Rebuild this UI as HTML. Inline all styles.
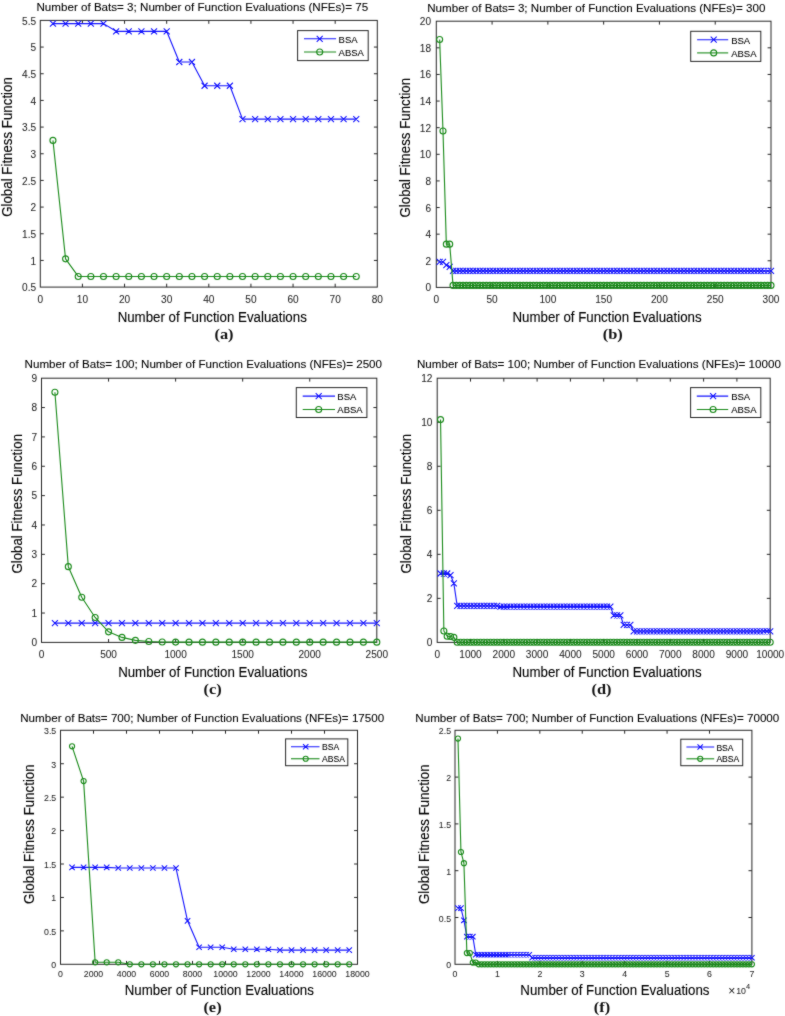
<!DOCTYPE html>
<html lang="en">
<head>
<meta charset="utf-8">
<title>Global Fitness Function vs Number of Function Evaluations</title>
<style>
html,body{margin:0;padding:0;background:#fff;}
body{width:785px;height:1016px;overflow:hidden;}
svg{display:block;}
text{font-family:"Liberation Sans",Arial,Helvetica,sans-serif;}
.ttl{font-size:11.62px;fill:#000;stroke:#000;stroke-width:0.08;}
.lbl{font-size:13.3px;fill:#000;stroke:#000;stroke-width:0.1;}
.sub{font-family:"Liberation Serif","Times New Roman",serif;font-weight:bold;font-size:15.6px;fill:#111;}
.tk{fill:#262626;stroke:#262626;stroke-width:0.06;}
.lgt{fill:#000;stroke:#000;stroke-width:0.08;}
.ax{fill:none;stroke:#262626;stroke-width:1;}
.legbox{fill:#fff;stroke:#262626;stroke-width:1;}
.lb{fill:none;stroke:#1414ff;stroke-width:1.1;stroke-linejoin:round;}
.lg{fill:none;stroke:#1a8a1a;stroke-width:1.1;stroke-linejoin:round;}
</style>
</head>
<body>
<svg width="785" height="1016" viewBox="0 0 785 1016">
<defs><filter id="soft" x="0" y="0" width="785" height="1016" filterUnits="userSpaceOnUse" color-interpolation-filters="sRGB"><feConvolveMatrix order="3" kernelMatrix="1 2 1 2 22 2 1 2 1" divisor="34" edgeMode="duplicate" preserveAlpha="true"/></filter></defs>
<g filter="url(#soft)">
<rect x="0" y="0" width="785" height="1016" fill="#fff"/>
<g id="plot-a">
<text class="ttl" x="202.3" y="10.6" text-anchor="middle">Number of Bats= 3; Number of Function Evaluations (NFEs)= 75</text>
<text class="lbl" transform="translate(212.2 321.6) scale(1 1.07)" text-anchor="middle">Number of Function Evaluations</text>
<text class="lbl" transform="translate(11.9 147) rotate(-90) scale(1 1.07)" text-anchor="middle">Global Fitness Function</text>
<text class="sub" transform="translate(224 338.6) scale(1.05 1)" text-anchor="middle">(a)</text>
<text class="tk" font-size="10.1" x="40.3" y="302.8" text-anchor="middle">0</text>
<text class="tk" font-size="10.1" x="82.42" y="302.8" text-anchor="middle">10</text>
<text class="tk" font-size="10.1" x="124.55" y="302.8" text-anchor="middle">20</text>
<text class="tk" font-size="10.1" x="166.68" y="302.8" text-anchor="middle">30</text>
<text class="tk" font-size="10.1" x="208.8" y="302.8" text-anchor="middle">40</text>
<text class="tk" font-size="10.1" x="250.93" y="302.8" text-anchor="middle">50</text>
<text class="tk" font-size="10.1" x="293.05" y="302.8" text-anchor="middle">60</text>
<text class="tk" font-size="10.1" x="335.18" y="302.8" text-anchor="middle">70</text>
<text class="tk" font-size="10.1" x="377.3" y="302.8" text-anchor="middle">80</text>
<text class="tk" font-size="10.1" x="36.15" y="291.45" text-anchor="end">0.5</text>
<text class="tk" font-size="10.1" x="36.15" y="264.78" text-anchor="end">1</text>
<text class="tk" font-size="10.1" x="36.15" y="238.11" text-anchor="end">1.5</text>
<text class="tk" font-size="10.1" x="36.15" y="211.44" text-anchor="end">2</text>
<text class="tk" font-size="10.1" x="36.15" y="184.77" text-anchor="end">2.5</text>
<text class="tk" font-size="10.1" x="36.15" y="158.1" text-anchor="end">3</text>
<text class="tk" font-size="10.1" x="36.15" y="131.43" text-anchor="end">3.5</text>
<text class="tk" font-size="10.1" x="36.15" y="104.76" text-anchor="end">4</text>
<text class="tk" font-size="10.1" x="36.15" y="78.09" text-anchor="end">4.5</text>
<text class="tk" font-size="10.1" x="36.15" y="51.42" text-anchor="end">5</text>
<text class="tk" font-size="10.1" x="36.15" y="24.75" text-anchor="end">5.5</text>
<path class="ax" d="M82.42 287.1v-3.4M82.42 20.4v3.4M124.55 287.1v-3.4M124.55 20.4v3.4M166.68 287.1v-3.4M166.68 20.4v3.4M208.8 287.1v-3.4M208.8 20.4v3.4M250.93 287.1v-3.4M250.93 20.4v3.4M293.05 287.1v-3.4M293.05 20.4v3.4M335.18 287.1v-3.4M335.18 20.4v3.4M40.3 260.43h3.4M377.3 260.43h-3.4M40.3 233.76h3.4M377.3 233.76h-3.4M40.3 207.09h3.4M377.3 207.09h-3.4M40.3 180.42h3.4M377.3 180.42h-3.4M40.3 153.75h3.4M377.3 153.75h-3.4M40.3 127.08h3.4M377.3 127.08h-3.4M40.3 100.41h3.4M377.3 100.41h-3.4M40.3 73.74h3.4M377.3 73.74h-3.4M40.3 47.07h3.4M377.3 47.07h-3.4"/>
<rect class="ax" x="40.3" y="20.4" width="337" height="266.7"/>
<polyline class="lb" points="52.94,23.6 65.57,23.6 78.21,23.6 90.85,23.6 103.49,23.6 116.12,31.33 128.76,31.33 141.4,31.33 154.04,31.33 166.68,31.33 179.31,62.01 191.95,62.01 204.59,85.74 217.23,85.74 229.86,85.74 242.5,119.08 255.14,119.08 267.78,119.08 280.41,119.08 293.05,119.08 305.69,119.08 318.32,119.08 330.96,119.08 343.6,119.08 356.24,119.08"/>
<path class="lb" d="M49.94 20.6l6 6M49.94 26.6l6 -6M62.57 20.6l6 6M62.57 26.6l6 -6M75.21 20.6l6 6M75.21 26.6l6 -6M87.85 20.6l6 6M87.85 26.6l6 -6M100.49 20.6l6 6M100.49 26.6l6 -6M113.12 28.33l6 6M113.12 34.33l6 -6M125.76 28.33l6 6M125.76 34.33l6 -6M138.4 28.33l6 6M138.4 34.33l6 -6M151.04 28.33l6 6M151.04 34.33l6 -6M163.68 28.33l6 6M163.68 34.33l6 -6M176.31 59.01l6 6M176.31 65.01l6 -6M188.95 59.01l6 6M188.95 65.01l6 -6M201.59 82.74l6 6M201.59 88.74l6 -6M214.23 82.74l6 6M214.23 88.74l6 -6M226.86 82.74l6 6M226.86 88.74l6 -6M239.5 116.08l6 6M239.5 122.08l6 -6M252.14 116.08l6 6M252.14 122.08l6 -6M264.78 116.08l6 6M264.78 122.08l6 -6M277.41 116.08l6 6M277.41 122.08l6 -6M290.05 116.08l6 6M290.05 122.08l6 -6M302.69 116.08l6 6M302.69 122.08l6 -6M315.32 116.08l6 6M315.32 122.08l6 -6M327.96 116.08l6 6M327.96 122.08l6 -6M340.6 116.08l6 6M340.6 122.08l6 -6M353.24 116.08l6 6M353.24 122.08l6 -6"/>
<polyline class="lg" points="52.94,140.41 65.57,258.83 78.21,276.43 90.85,276.43 103.49,276.43 116.12,276.43 128.76,276.43 141.4,276.43 154.04,276.43 166.68,276.43 179.31,276.43 191.95,276.43 204.59,276.43 217.23,276.43 229.86,276.43 242.5,276.43 255.14,276.43 267.78,276.43 280.41,276.43 293.05,276.43 305.69,276.43 318.32,276.43 330.96,276.43 343.6,276.43 356.24,276.43"/>
<circle class="lg" cx="52.94" cy="140.41" r="3.0"/>
<circle class="lg" cx="65.57" cy="258.83" r="3.0"/>
<circle class="lg" cx="78.21" cy="276.43" r="3.0"/>
<circle class="lg" cx="90.85" cy="276.43" r="3.0"/>
<circle class="lg" cx="103.49" cy="276.43" r="3.0"/>
<circle class="lg" cx="116.12" cy="276.43" r="3.0"/>
<circle class="lg" cx="128.76" cy="276.43" r="3.0"/>
<circle class="lg" cx="141.4" cy="276.43" r="3.0"/>
<circle class="lg" cx="154.04" cy="276.43" r="3.0"/>
<circle class="lg" cx="166.68" cy="276.43" r="3.0"/>
<circle class="lg" cx="179.31" cy="276.43" r="3.0"/>
<circle class="lg" cx="191.95" cy="276.43" r="3.0"/>
<circle class="lg" cx="204.59" cy="276.43" r="3.0"/>
<circle class="lg" cx="217.23" cy="276.43" r="3.0"/>
<circle class="lg" cx="229.86" cy="276.43" r="3.0"/>
<circle class="lg" cx="242.5" cy="276.43" r="3.0"/>
<circle class="lg" cx="255.14" cy="276.43" r="3.0"/>
<circle class="lg" cx="267.78" cy="276.43" r="3.0"/>
<circle class="lg" cx="280.41" cy="276.43" r="3.0"/>
<circle class="lg" cx="293.05" cy="276.43" r="3.0"/>
<circle class="lg" cx="305.69" cy="276.43" r="3.0"/>
<circle class="lg" cx="318.32" cy="276.43" r="3.0"/>
<circle class="lg" cx="330.96" cy="276.43" r="3.0"/>
<circle class="lg" cx="343.6" cy="276.43" r="3.0"/>
<circle class="lg" cx="356.24" cy="276.43" r="3.0"/>
<rect class="legbox" x="297.6" y="30.6" width="70.6" height="30"/>
<path class="lb" d="M304 38.8H336.1M316.7 35.8l6 6M316.7 41.8l6 -6"/>
<path class="lg" d="M304 52H336.1"/>
<circle class="lg" cx="319.7" cy="52" r="3.0"/>
<text class="lgt" font-size="9.5" x="338.6" y="42.8">BSA</text>
<text class="lgt" font-size="9.5" x="338.6" y="56">ABSA</text>
</g>
<g id="plot-b">
<text class="ttl" x="596.3" y="12" text-anchor="middle">Number of Bats= 3; Number of Function Evaluations (NFEs)= 300</text>
<text class="lbl" transform="translate(607 321.6) scale(1 1.07)" text-anchor="middle">Number of Function Evaluations</text>
<text class="lbl" transform="translate(410.4 147.7) rotate(-90) scale(1 1.07)" text-anchor="middle">Global Fitness Function</text>
<text class="sub" transform="translate(612.8 338.6) scale(1.05 1)" text-anchor="middle">(b)</text>
<text class="tk" font-size="10.1" x="436.3" y="303.1" text-anchor="middle">0</text>
<text class="tk" font-size="10.1" x="492.08" y="303.1" text-anchor="middle">50</text>
<text class="tk" font-size="10.1" x="547.87" y="303.1" text-anchor="middle">100</text>
<text class="tk" font-size="10.1" x="603.65" y="303.1" text-anchor="middle">150</text>
<text class="tk" font-size="10.1" x="659.43" y="303.1" text-anchor="middle">200</text>
<text class="tk" font-size="10.1" x="715.22" y="303.1" text-anchor="middle">250</text>
<text class="tk" font-size="10.1" x="771" y="303.1" text-anchor="middle">300</text>
<text class="tk" font-size="10.1" x="431" y="291.4" text-anchor="end">0</text>
<text class="tk" font-size="10.1" x="431" y="264.78" text-anchor="end">2</text>
<text class="tk" font-size="10.1" x="431" y="238.16" text-anchor="end">4</text>
<text class="tk" font-size="10.1" x="431" y="211.54" text-anchor="end">6</text>
<text class="tk" font-size="10.1" x="431" y="184.92" text-anchor="end">8</text>
<text class="tk" font-size="10.1" x="431" y="158.3" text-anchor="end">10</text>
<text class="tk" font-size="10.1" x="431" y="131.68" text-anchor="end">12</text>
<text class="tk" font-size="10.1" x="431" y="105.06" text-anchor="end">14</text>
<text class="tk" font-size="10.1" x="431" y="78.44" text-anchor="end">16</text>
<text class="tk" font-size="10.1" x="431" y="51.82" text-anchor="end">18</text>
<text class="tk" font-size="10.1" x="431" y="25.2" text-anchor="end">20</text>
<path class="ax" d="M492.08 287.4v-3.4M492.08 21.2v3.4M547.87 287.4v-3.4M547.87 21.2v3.4M603.65 287.4v-3.4M603.65 21.2v3.4M659.43 287.4v-3.4M659.43 21.2v3.4M715.22 287.4v-3.4M715.22 21.2v3.4M436.3 260.78h3.4M771 260.78h-3.4M436.3 234.16h3.4M771 234.16h-3.4M436.3 207.54h3.4M771 207.54h-3.4M436.3 180.92h3.4M771 180.92h-3.4M436.3 154.3h3.4M771 154.3h-3.4M436.3 127.68h3.4M771 127.68h-3.4M436.3 101.06h3.4M771 101.06h-3.4M436.3 74.44h3.4M771 74.44h-3.4M436.3 47.82h3.4M771 47.82h-3.4"/>
<rect class="ax" x="436.3" y="21.2" width="334.7" height="266.2"/>
<polyline class="lb" points="439.65,261.84 442.99,261.84 446.34,265.04 449.69,266.77 453.04,270.9 456.38,270.9 459.73,270.9 463.08,270.9 466.42,270.9 469.77,270.9 473.12,270.9 476.46,270.9 479.81,270.9 483.16,270.9 486.5,270.9 489.85,270.9 493.2,270.9 496.55,270.9 499.89,270.9 503.24,270.9 506.59,270.9 509.93,270.9 513.28,270.9 516.63,270.9 519.98,270.9 523.32,270.9 526.67,270.9 530.02,270.9 533.36,270.9 536.71,270.9 540.06,270.9 543.4,270.9 546.75,270.9 550.1,270.9 553.44,270.9 556.79,270.9 560.14,270.9 563.49,270.9 566.83,270.9 570.18,270.9 573.53,270.9 576.87,270.9 580.22,270.9 583.57,270.9 586.91,270.9 590.26,270.9 593.61,270.9 596.96,270.9 600.3,270.9 603.65,270.9 607,270.9 610.34,270.9 613.69,270.9 617.04,270.9 620.38,270.9 623.73,270.9 627.08,270.9 630.43,270.9 633.77,270.9 637.12,270.9 640.47,270.9 643.81,270.9 647.16,270.9 650.51,270.9 653.86,270.9 657.2,270.9 660.55,270.9 663.9,270.9 667.24,270.9 670.59,270.9 673.94,270.9 677.28,270.9 680.63,270.9 683.98,270.9 687.33,270.9 690.67,270.9 694.02,270.9 697.37,270.9 700.71,270.9 704.06,270.9 707.41,270.9 710.75,270.9 714.1,270.9 717.45,270.9 720.8,270.9 724.14,270.9 727.49,270.9 730.84,270.9 734.18,270.9 737.53,270.9 740.88,270.9 744.22,270.9 747.57,270.9 750.92,270.9 754.26,270.9 757.61,270.9 760.96,270.9 764.31,270.9 767.65,270.9 771,270.9"/>
<path class="lb" d="M436.65 258.84l6 6M436.65 264.84l6 -6M439.99 258.84l6 6M439.99 264.84l6 -6M443.34 262.04l6 6M443.34 268.04l6 -6M446.69 263.77l6 6M446.69 269.77l6 -6M450.04 267.9l6 6M450.04 273.9l6 -6M453.38 267.9l6 6M453.38 273.9l6 -6M456.73 267.9l6 6M456.73 273.9l6 -6M460.08 267.9l6 6M460.08 273.9l6 -6M463.42 267.9l6 6M463.42 273.9l6 -6M466.77 267.9l6 6M466.77 273.9l6 -6M470.12 267.9l6 6M470.12 273.9l6 -6M473.46 267.9l6 6M473.46 273.9l6 -6M476.81 267.9l6 6M476.81 273.9l6 -6M480.16 267.9l6 6M480.16 273.9l6 -6M483.5 267.9l6 6M483.5 273.9l6 -6M486.85 267.9l6 6M486.85 273.9l6 -6M490.2 267.9l6 6M490.2 273.9l6 -6M493.55 267.9l6 6M493.55 273.9l6 -6M496.89 267.9l6 6M496.89 273.9l6 -6M500.24 267.9l6 6M500.24 273.9l6 -6M503.59 267.9l6 6M503.59 273.9l6 -6M506.93 267.9l6 6M506.93 273.9l6 -6M510.28 267.9l6 6M510.28 273.9l6 -6M513.63 267.9l6 6M513.63 273.9l6 -6M516.98 267.9l6 6M516.98 273.9l6 -6M520.32 267.9l6 6M520.32 273.9l6 -6M523.67 267.9l6 6M523.67 273.9l6 -6M527.02 267.9l6 6M527.02 273.9l6 -6M530.36 267.9l6 6M530.36 273.9l6 -6M533.71 267.9l6 6M533.71 273.9l6 -6M537.06 267.9l6 6M537.06 273.9l6 -6M540.4 267.9l6 6M540.4 273.9l6 -6M543.75 267.9l6 6M543.75 273.9l6 -6M547.1 267.9l6 6M547.1 273.9l6 -6M550.44 267.9l6 6M550.44 273.9l6 -6M553.79 267.9l6 6M553.79 273.9l6 -6M557.14 267.9l6 6M557.14 273.9l6 -6M560.49 267.9l6 6M560.49 273.9l6 -6M563.83 267.9l6 6M563.83 273.9l6 -6M567.18 267.9l6 6M567.18 273.9l6 -6M570.53 267.9l6 6M570.53 273.9l6 -6M573.87 267.9l6 6M573.87 273.9l6 -6M577.22 267.9l6 6M577.22 273.9l6 -6M580.57 267.9l6 6M580.57 273.9l6 -6M583.91 267.9l6 6M583.91 273.9l6 -6M587.26 267.9l6 6M587.26 273.9l6 -6M590.61 267.9l6 6M590.61 273.9l6 -6M593.96 267.9l6 6M593.96 273.9l6 -6M597.3 267.9l6 6M597.3 273.9l6 -6M600.65 267.9l6 6M600.65 273.9l6 -6M604 267.9l6 6M604 273.9l6 -6M607.34 267.9l6 6M607.34 273.9l6 -6M610.69 267.9l6 6M610.69 273.9l6 -6M614.04 267.9l6 6M614.04 273.9l6 -6M617.38 267.9l6 6M617.38 273.9l6 -6M620.73 267.9l6 6M620.73 273.9l6 -6M624.08 267.9l6 6M624.08 273.9l6 -6M627.43 267.9l6 6M627.43 273.9l6 -6M630.77 267.9l6 6M630.77 273.9l6 -6M634.12 267.9l6 6M634.12 273.9l6 -6M637.47 267.9l6 6M637.47 273.9l6 -6M640.81 267.9l6 6M640.81 273.9l6 -6M644.16 267.9l6 6M644.16 273.9l6 -6M647.51 267.9l6 6M647.51 273.9l6 -6M650.86 267.9l6 6M650.86 273.9l6 -6M654.2 267.9l6 6M654.2 273.9l6 -6M657.55 267.9l6 6M657.55 273.9l6 -6M660.9 267.9l6 6M660.9 273.9l6 -6M664.24 267.9l6 6M664.24 273.9l6 -6M667.59 267.9l6 6M667.59 273.9l6 -6M670.94 267.9l6 6M670.94 273.9l6 -6M674.28 267.9l6 6M674.28 273.9l6 -6M677.63 267.9l6 6M677.63 273.9l6 -6M680.98 267.9l6 6M680.98 273.9l6 -6M684.33 267.9l6 6M684.33 273.9l6 -6M687.67 267.9l6 6M687.67 273.9l6 -6M691.02 267.9l6 6M691.02 273.9l6 -6M694.37 267.9l6 6M694.37 273.9l6 -6M697.71 267.9l6 6M697.71 273.9l6 -6M701.06 267.9l6 6M701.06 273.9l6 -6M704.41 267.9l6 6M704.41 273.9l6 -6M707.75 267.9l6 6M707.75 273.9l6 -6M711.1 267.9l6 6M711.1 273.9l6 -6M714.45 267.9l6 6M714.45 273.9l6 -6M717.8 267.9l6 6M717.8 273.9l6 -6M721.14 267.9l6 6M721.14 273.9l6 -6M724.49 267.9l6 6M724.49 273.9l6 -6M727.84 267.9l6 6M727.84 273.9l6 -6M731.18 267.9l6 6M731.18 273.9l6 -6M734.53 267.9l6 6M734.53 273.9l6 -6M737.88 267.9l6 6M737.88 273.9l6 -6M741.22 267.9l6 6M741.22 273.9l6 -6M744.57 267.9l6 6M744.57 273.9l6 -6M747.92 267.9l6 6M747.92 273.9l6 -6M751.26 267.9l6 6M751.26 273.9l6 -6M754.61 267.9l6 6M754.61 273.9l6 -6M757.96 267.9l6 6M757.96 273.9l6 -6M761.31 267.9l6 6M761.31 273.9l6 -6M764.65 267.9l6 6M764.65 273.9l6 -6M768 267.9l6 6M768 273.9l6 -6"/>
<polyline class="lg" points="439.65,39.57 442.99,131.01 446.34,244.14 449.69,244.14 453.04,285.4 456.38,285.4 459.73,285.4 463.08,285.4 466.42,285.4 469.77,285.4 473.12,285.4 476.46,285.4 479.81,285.4 483.16,285.4 486.5,285.4 489.85,285.4 493.2,285.4 496.55,285.4 499.89,285.4 503.24,285.4 506.59,285.4 509.93,285.4 513.28,285.4 516.63,285.4 519.98,285.4 523.32,285.4 526.67,285.4 530.02,285.4 533.36,285.4 536.71,285.4 540.06,285.4 543.4,285.4 546.75,285.4 550.1,285.4 553.44,285.4 556.79,285.4 560.14,285.4 563.49,285.4 566.83,285.4 570.18,285.4 573.53,285.4 576.87,285.4 580.22,285.4 583.57,285.4 586.91,285.4 590.26,285.4 593.61,285.4 596.96,285.4 600.3,285.4 603.65,285.4 607,285.4 610.34,285.4 613.69,285.4 617.04,285.4 620.38,285.4 623.73,285.4 627.08,285.4 630.43,285.4 633.77,285.4 637.12,285.4 640.47,285.4 643.81,285.4 647.16,285.4 650.51,285.4 653.86,285.4 657.2,285.4 660.55,285.4 663.9,285.4 667.24,285.4 670.59,285.4 673.94,285.4 677.28,285.4 680.63,285.4 683.98,285.4 687.33,285.4 690.67,285.4 694.02,285.4 697.37,285.4 700.71,285.4 704.06,285.4 707.41,285.4 710.75,285.4 714.1,285.4 717.45,285.4 720.8,285.4 724.14,285.4 727.49,285.4 730.84,285.4 734.18,285.4 737.53,285.4 740.88,285.4 744.22,285.4 747.57,285.4 750.92,285.4 754.26,285.4 757.61,285.4 760.96,285.4 764.31,285.4 767.65,285.4 771,285.4"/>
<circle class="lg" cx="439.65" cy="39.57" r="3.0"/>
<circle class="lg" cx="442.99" cy="131.01" r="3.0"/>
<circle class="lg" cx="446.34" cy="244.14" r="3.0"/>
<circle class="lg" cx="449.69" cy="244.14" r="3.0"/>
<circle class="lg" cx="453.04" cy="285.4" r="3.0"/>
<circle class="lg" cx="456.38" cy="285.4" r="3.0"/>
<circle class="lg" cx="459.73" cy="285.4" r="3.0"/>
<circle class="lg" cx="463.08" cy="285.4" r="3.0"/>
<circle class="lg" cx="466.42" cy="285.4" r="3.0"/>
<circle class="lg" cx="469.77" cy="285.4" r="3.0"/>
<circle class="lg" cx="473.12" cy="285.4" r="3.0"/>
<circle class="lg" cx="476.46" cy="285.4" r="3.0"/>
<circle class="lg" cx="479.81" cy="285.4" r="3.0"/>
<circle class="lg" cx="483.16" cy="285.4" r="3.0"/>
<circle class="lg" cx="486.5" cy="285.4" r="3.0"/>
<circle class="lg" cx="489.85" cy="285.4" r="3.0"/>
<circle class="lg" cx="493.2" cy="285.4" r="3.0"/>
<circle class="lg" cx="496.55" cy="285.4" r="3.0"/>
<circle class="lg" cx="499.89" cy="285.4" r="3.0"/>
<circle class="lg" cx="503.24" cy="285.4" r="3.0"/>
<circle class="lg" cx="506.59" cy="285.4" r="3.0"/>
<circle class="lg" cx="509.93" cy="285.4" r="3.0"/>
<circle class="lg" cx="513.28" cy="285.4" r="3.0"/>
<circle class="lg" cx="516.63" cy="285.4" r="3.0"/>
<circle class="lg" cx="519.98" cy="285.4" r="3.0"/>
<circle class="lg" cx="523.32" cy="285.4" r="3.0"/>
<circle class="lg" cx="526.67" cy="285.4" r="3.0"/>
<circle class="lg" cx="530.02" cy="285.4" r="3.0"/>
<circle class="lg" cx="533.36" cy="285.4" r="3.0"/>
<circle class="lg" cx="536.71" cy="285.4" r="3.0"/>
<circle class="lg" cx="540.06" cy="285.4" r="3.0"/>
<circle class="lg" cx="543.4" cy="285.4" r="3.0"/>
<circle class="lg" cx="546.75" cy="285.4" r="3.0"/>
<circle class="lg" cx="550.1" cy="285.4" r="3.0"/>
<circle class="lg" cx="553.44" cy="285.4" r="3.0"/>
<circle class="lg" cx="556.79" cy="285.4" r="3.0"/>
<circle class="lg" cx="560.14" cy="285.4" r="3.0"/>
<circle class="lg" cx="563.49" cy="285.4" r="3.0"/>
<circle class="lg" cx="566.83" cy="285.4" r="3.0"/>
<circle class="lg" cx="570.18" cy="285.4" r="3.0"/>
<circle class="lg" cx="573.53" cy="285.4" r="3.0"/>
<circle class="lg" cx="576.87" cy="285.4" r="3.0"/>
<circle class="lg" cx="580.22" cy="285.4" r="3.0"/>
<circle class="lg" cx="583.57" cy="285.4" r="3.0"/>
<circle class="lg" cx="586.91" cy="285.4" r="3.0"/>
<circle class="lg" cx="590.26" cy="285.4" r="3.0"/>
<circle class="lg" cx="593.61" cy="285.4" r="3.0"/>
<circle class="lg" cx="596.96" cy="285.4" r="3.0"/>
<circle class="lg" cx="600.3" cy="285.4" r="3.0"/>
<circle class="lg" cx="603.65" cy="285.4" r="3.0"/>
<circle class="lg" cx="607" cy="285.4" r="3.0"/>
<circle class="lg" cx="610.34" cy="285.4" r="3.0"/>
<circle class="lg" cx="613.69" cy="285.4" r="3.0"/>
<circle class="lg" cx="617.04" cy="285.4" r="3.0"/>
<circle class="lg" cx="620.38" cy="285.4" r="3.0"/>
<circle class="lg" cx="623.73" cy="285.4" r="3.0"/>
<circle class="lg" cx="627.08" cy="285.4" r="3.0"/>
<circle class="lg" cx="630.43" cy="285.4" r="3.0"/>
<circle class="lg" cx="633.77" cy="285.4" r="3.0"/>
<circle class="lg" cx="637.12" cy="285.4" r="3.0"/>
<circle class="lg" cx="640.47" cy="285.4" r="3.0"/>
<circle class="lg" cx="643.81" cy="285.4" r="3.0"/>
<circle class="lg" cx="647.16" cy="285.4" r="3.0"/>
<circle class="lg" cx="650.51" cy="285.4" r="3.0"/>
<circle class="lg" cx="653.86" cy="285.4" r="3.0"/>
<circle class="lg" cx="657.2" cy="285.4" r="3.0"/>
<circle class="lg" cx="660.55" cy="285.4" r="3.0"/>
<circle class="lg" cx="663.9" cy="285.4" r="3.0"/>
<circle class="lg" cx="667.24" cy="285.4" r="3.0"/>
<circle class="lg" cx="670.59" cy="285.4" r="3.0"/>
<circle class="lg" cx="673.94" cy="285.4" r="3.0"/>
<circle class="lg" cx="677.28" cy="285.4" r="3.0"/>
<circle class="lg" cx="680.63" cy="285.4" r="3.0"/>
<circle class="lg" cx="683.98" cy="285.4" r="3.0"/>
<circle class="lg" cx="687.33" cy="285.4" r="3.0"/>
<circle class="lg" cx="690.67" cy="285.4" r="3.0"/>
<circle class="lg" cx="694.02" cy="285.4" r="3.0"/>
<circle class="lg" cx="697.37" cy="285.4" r="3.0"/>
<circle class="lg" cx="700.71" cy="285.4" r="3.0"/>
<circle class="lg" cx="704.06" cy="285.4" r="3.0"/>
<circle class="lg" cx="707.41" cy="285.4" r="3.0"/>
<circle class="lg" cx="710.75" cy="285.4" r="3.0"/>
<circle class="lg" cx="714.1" cy="285.4" r="3.0"/>
<circle class="lg" cx="717.45" cy="285.4" r="3.0"/>
<circle class="lg" cx="720.8" cy="285.4" r="3.0"/>
<circle class="lg" cx="724.14" cy="285.4" r="3.0"/>
<circle class="lg" cx="727.49" cy="285.4" r="3.0"/>
<circle class="lg" cx="730.84" cy="285.4" r="3.0"/>
<circle class="lg" cx="734.18" cy="285.4" r="3.0"/>
<circle class="lg" cx="737.53" cy="285.4" r="3.0"/>
<circle class="lg" cx="740.88" cy="285.4" r="3.0"/>
<circle class="lg" cx="744.22" cy="285.4" r="3.0"/>
<circle class="lg" cx="747.57" cy="285.4" r="3.0"/>
<circle class="lg" cx="750.92" cy="285.4" r="3.0"/>
<circle class="lg" cx="754.26" cy="285.4" r="3.0"/>
<circle class="lg" cx="757.61" cy="285.4" r="3.0"/>
<circle class="lg" cx="760.96" cy="285.4" r="3.0"/>
<circle class="lg" cx="764.31" cy="285.4" r="3.0"/>
<circle class="lg" cx="767.65" cy="285.4" r="3.0"/>
<circle class="lg" cx="771" cy="285.4" r="3.0"/>
<rect class="legbox" x="690.7" y="31.3" width="70.1" height="30.1"/>
<path class="lb" d="M697.1 39.7H728.2M710.7 36.7l6 6M710.7 42.7l6 -6"/>
<path class="lg" d="M697.1 52.9H728.2"/>
<circle class="lg" cx="713.7" cy="52.9" r="3.0"/>
<text class="lgt" font-size="9.5" x="731.2" y="43.6">BSA</text>
<text class="lgt" font-size="9.5" x="731.2" y="56.8">ABSA</text>
</g>
<g id="plot-c">
<text class="ttl" x="203.3" y="368.4" text-anchor="middle">Number of Bats= 100; Number of Function Evaluations (NFEs)= 2500</text>
<text class="lbl" transform="translate(212.7 676.8) scale(1 1.07)" text-anchor="middle">Number of Function Evaluations</text>
<text class="lbl" transform="translate(21.7 503.8) rotate(-90) scale(1 1.07)" text-anchor="middle">Global Fitness Function</text>
<text class="sub" transform="translate(212.7 694.4) scale(1.05 1)" text-anchor="middle">(c)</text>
<text class="tk" font-size="10.1" x="41.5" y="658.1" text-anchor="middle">0</text>
<text class="tk" font-size="10.1" x="108.56" y="658.1" text-anchor="middle">500</text>
<text class="tk" font-size="10.1" x="175.62" y="658.1" text-anchor="middle">1000</text>
<text class="tk" font-size="10.1" x="242.68" y="658.1" text-anchor="middle">1500</text>
<text class="tk" font-size="10.1" x="309.74" y="658.1" text-anchor="middle">2000</text>
<text class="tk" font-size="10.1" x="376.8" y="658.1" text-anchor="middle">2500</text>
<text class="tk" font-size="10.1" x="37.1" y="646.2" text-anchor="end">0</text>
<text class="tk" font-size="10.1" x="37.1" y="616.84" text-anchor="end">1</text>
<text class="tk" font-size="10.1" x="37.1" y="587.49" text-anchor="end">2</text>
<text class="tk" font-size="10.1" x="37.1" y="558.13" text-anchor="end">3</text>
<text class="tk" font-size="10.1" x="37.1" y="528.78" text-anchor="end">4</text>
<text class="tk" font-size="10.1" x="37.1" y="499.42" text-anchor="end">5</text>
<text class="tk" font-size="10.1" x="37.1" y="470.07" text-anchor="end">6</text>
<text class="tk" font-size="10.1" x="37.1" y="440.71" text-anchor="end">7</text>
<text class="tk" font-size="10.1" x="37.1" y="411.36" text-anchor="end">8</text>
<text class="tk" font-size="10.1" x="37.1" y="382" text-anchor="end">9</text>
<path class="ax" d="M108.56 642.4v-3.4M108.56 378.2v3.4M175.62 642.4v-3.4M175.62 378.2v3.4M242.68 642.4v-3.4M242.68 378.2v3.4M309.74 642.4v-3.4M309.74 378.2v3.4M41.5 613.04h3.4M376.8 613.04h-3.4M41.5 583.69h3.4M376.8 583.69h-3.4M41.5 554.33h3.4M376.8 554.33h-3.4M41.5 524.98h3.4M376.8 524.98h-3.4M41.5 495.62h3.4M376.8 495.62h-3.4M41.5 466.27h3.4M376.8 466.27h-3.4M41.5 436.91h3.4M376.8 436.91h-3.4M41.5 407.56h3.4M376.8 407.56h-3.4"/>
<rect class="ax" x="41.5" y="378.2" width="335.3" height="264.2"/>
<polyline class="lb" points="54.91,623.17 68.32,623.17 81.74,623.17 95.15,623.17 108.56,623.17 121.97,623.17 135.38,623.17 148.8,623.17 162.21,623.17 175.62,623.17 189.03,623.17 202.44,623.17 215.86,623.17 229.27,623.17 242.68,623.17 256.09,623.17 269.5,623.17 282.92,623.17 296.33,623.17 309.74,623.17 323.15,623.17 336.56,623.17 349.98,623.17 363.39,623.17 376.8,623.17"/>
<path class="lb" d="M51.91 620.17l6 6M51.91 626.17l6 -6M65.32 620.17l6 6M65.32 626.17l6 -6M78.74 620.17l6 6M78.74 626.17l6 -6M92.15 620.17l6 6M92.15 626.17l6 -6M105.56 620.17l6 6M105.56 626.17l6 -6M118.97 620.17l6 6M118.97 626.17l6 -6M132.38 620.17l6 6M132.38 626.17l6 -6M145.8 620.17l6 6M145.8 626.17l6 -6M159.21 620.17l6 6M159.21 626.17l6 -6M172.62 620.17l6 6M172.62 626.17l6 -6M186.03 620.17l6 6M186.03 626.17l6 -6M199.44 620.17l6 6M199.44 626.17l6 -6M212.86 620.17l6 6M212.86 626.17l6 -6M226.27 620.17l6 6M226.27 626.17l6 -6M239.68 620.17l6 6M239.68 626.17l6 -6M253.09 620.17l6 6M253.09 626.17l6 -6M266.5 620.17l6 6M266.5 626.17l6 -6M279.92 620.17l6 6M279.92 626.17l6 -6M293.33 620.17l6 6M293.33 626.17l6 -6M306.74 620.17l6 6M306.74 626.17l6 -6M320.15 620.17l6 6M320.15 626.17l6 -6M333.56 620.17l6 6M333.56 626.17l6 -6M346.98 620.17l6 6M346.98 626.17l6 -6M360.39 620.17l6 6M360.39 626.17l6 -6M373.8 620.17l6 6M373.8 626.17l6 -6"/>
<polyline class="lg" points="54.91,392.29 68.32,566.66 81.74,597.19 95.15,617.45 108.56,631.83 121.97,637.41 135.38,640.35 148.8,641.52 162.21,641.96 175.62,642.11 189.03,642.17 202.44,642.17 215.86,642.17 229.27,642.17 242.68,642.17 256.09,642.17 269.5,642.17 282.92,642.17 296.33,642.17 309.74,642.17 323.15,642.17 336.56,642.17 349.98,642.17 363.39,642.17 376.8,642.17"/>
<circle class="lg" cx="54.91" cy="392.29" r="3.0"/>
<circle class="lg" cx="68.32" cy="566.66" r="3.0"/>
<circle class="lg" cx="81.74" cy="597.19" r="3.0"/>
<circle class="lg" cx="95.15" cy="617.45" r="3.0"/>
<circle class="lg" cx="108.56" cy="631.83" r="3.0"/>
<circle class="lg" cx="121.97" cy="637.41" r="3.0"/>
<circle class="lg" cx="135.38" cy="640.35" r="3.0"/>
<circle class="lg" cx="148.8" cy="641.52" r="3.0"/>
<circle class="lg" cx="162.21" cy="641.96" r="3.0"/>
<circle class="lg" cx="175.62" cy="642.11" r="3.0"/>
<circle class="lg" cx="189.03" cy="642.17" r="3.0"/>
<circle class="lg" cx="202.44" cy="642.17" r="3.0"/>
<circle class="lg" cx="215.86" cy="642.17" r="3.0"/>
<circle class="lg" cx="229.27" cy="642.17" r="3.0"/>
<circle class="lg" cx="242.68" cy="642.17" r="3.0"/>
<circle class="lg" cx="256.09" cy="642.17" r="3.0"/>
<circle class="lg" cx="269.5" cy="642.17" r="3.0"/>
<circle class="lg" cx="282.92" cy="642.17" r="3.0"/>
<circle class="lg" cx="296.33" cy="642.17" r="3.0"/>
<circle class="lg" cx="309.74" cy="642.17" r="3.0"/>
<circle class="lg" cx="323.15" cy="642.17" r="3.0"/>
<circle class="lg" cx="336.56" cy="642.17" r="3.0"/>
<circle class="lg" cx="349.98" cy="642.17" r="3.0"/>
<circle class="lg" cx="363.39" cy="642.17" r="3.0"/>
<circle class="lg" cx="376.8" cy="642.17" r="3.0"/>
<rect class="legbox" x="296.3" y="387.6" width="70.6" height="29.9"/>
<path class="lb" d="M302.7 396.15H335M315.7 393.15l6 6M315.7 399.15l6 -6"/>
<path class="lg" d="M302.7 409.45H335"/>
<circle class="lg" cx="318.7" cy="409.45" r="3.0"/>
<text class="lgt" font-size="9.5" x="337.3" y="399.8">BSA</text>
<text class="lgt" font-size="9.5" x="337.3" y="413.1">ABSA</text>
</g>
<g id="plot-d">
<text class="ttl" x="598.9" y="368.4" text-anchor="middle">Number of Bats= 100; Number of Function Evaluations (NFEs)= 10000</text>
<text class="lbl" transform="translate(607 676.75) scale(1 1.07)" text-anchor="middle">Number of Function Evaluations</text>
<text class="lbl" transform="translate(411.4 503.7) rotate(-90) scale(1 1.07)" text-anchor="middle">Global Fitness Function</text>
<text class="sub" transform="translate(601.5 694.1) scale(1.05 1)" text-anchor="middle">(d)</text>
<text class="tk" font-size="10.1" x="437.2" y="658.1" text-anchor="middle">0</text>
<text class="tk" font-size="10.1" x="470.5" y="658.1" text-anchor="middle">1000</text>
<text class="tk" font-size="10.1" x="503.8" y="658.1" text-anchor="middle">2000</text>
<text class="tk" font-size="10.1" x="537.1" y="658.1" text-anchor="middle">3000</text>
<text class="tk" font-size="10.1" x="570.4" y="658.1" text-anchor="middle">4000</text>
<text class="tk" font-size="10.1" x="603.7" y="658.1" text-anchor="middle">5000</text>
<text class="tk" font-size="10.1" x="637" y="658.1" text-anchor="middle">6000</text>
<text class="tk" font-size="10.1" x="670.3" y="658.1" text-anchor="middle">7000</text>
<text class="tk" font-size="10.1" x="703.6" y="658.1" text-anchor="middle">8000</text>
<text class="tk" font-size="10.1" x="736.9" y="658.1" text-anchor="middle">9000</text>
<text class="tk" font-size="10.1" x="770.2" y="658.1" text-anchor="middle">10000</text>
<text class="tk" font-size="10.1" x="432.4" y="646.4" text-anchor="end">0</text>
<text class="tk" font-size="10.1" x="432.4" y="602.37" text-anchor="end">2</text>
<text class="tk" font-size="10.1" x="432.4" y="558.33" text-anchor="end">4</text>
<text class="tk" font-size="10.1" x="432.4" y="514.3" text-anchor="end">6</text>
<text class="tk" font-size="10.1" x="432.4" y="470.27" text-anchor="end">8</text>
<text class="tk" font-size="10.1" x="432.4" y="426.23" text-anchor="end">10</text>
<text class="tk" font-size="10.1" x="432.4" y="382.2" text-anchor="end">12</text>
<path class="ax" d="M470.5 642.4v-3.4M470.5 378.2v3.4M503.8 642.4v-3.4M503.8 378.2v3.4M537.1 642.4v-3.4M537.1 378.2v3.4M570.4 642.4v-3.4M570.4 378.2v3.4M603.7 642.4v-3.4M603.7 378.2v3.4M637 642.4v-3.4M637 378.2v3.4M670.3 642.4v-3.4M670.3 378.2v3.4M703.6 642.4v-3.4M703.6 378.2v3.4M736.9 642.4v-3.4M736.9 378.2v3.4M437.2 598.37h3.4M770.2 598.37h-3.4M437.2 554.33h3.4M770.2 554.33h-3.4M437.2 510.3h3.4M770.2 510.3h-3.4M437.2 466.27h3.4M770.2 466.27h-3.4M437.2 422.23h3.4M770.2 422.23h-3.4"/>
<rect class="ax" x="437.2" y="378.2" width="333" height="264.2"/>
<polyline class="lb" points="440.53,573.49 443.86,573.49 447.19,573.49 450.52,575.03 453.85,583.4 457.18,605.85 460.51,605.85 463.84,605.85 467.17,605.85 470.5,605.85 473.83,605.85 477.16,605.85 480.49,605.85 483.82,605.85 487.15,605.85 490.48,605.85 493.81,605.85 497.14,605.85 500.47,606.62 503.8,606.62 507.13,606.62 510.46,606.62 513.79,606.62 517.12,606.62 520.45,606.62 523.78,606.62 527.11,606.62 530.44,606.62 533.77,606.62 537.1,606.62 540.43,606.62 543.76,606.62 547.09,606.62 550.42,606.62 553.75,606.62 557.08,606.62 560.41,606.62 563.74,606.62 567.07,606.62 570.4,606.62 573.73,606.62 577.06,606.62 580.39,606.62 583.72,606.62 587.05,606.62 590.38,606.62 593.71,606.62 597.04,606.62 600.37,606.62 603.7,606.62 607.03,606.62 610.36,606.62 613.69,615.32 617.02,615.32 620.35,615.32 623.68,624.79 627.01,624.79 630.34,624.79 633.67,631.28 637,631.28 640.33,631.28 643.66,631.28 646.99,631.28 650.32,631.28 653.65,631.28 656.98,631.28 660.31,631.28 663.64,631.28 666.97,631.28 670.3,631.28 673.63,631.28 676.96,631.28 680.29,631.28 683.62,631.28 686.95,631.28 690.28,631.28 693.61,631.28 696.94,631.28 700.27,631.28 703.6,631.28 706.93,631.28 710.26,631.28 713.59,631.28 716.92,631.28 720.25,631.28 723.58,631.28 726.91,631.28 730.24,631.28 733.57,631.28 736.9,631.28 740.23,631.28 743.56,631.28 746.89,631.28 750.22,631.28 753.55,631.28 756.88,631.28 760.21,631.28 763.54,631.28 766.87,631.28 770.2,631.28"/>
<path class="lb" d="M437.53 570.49l6 6M437.53 576.49l6 -6M440.86 570.49l6 6M440.86 576.49l6 -6M444.19 570.49l6 6M444.19 576.49l6 -6M447.52 572.03l6 6M447.52 578.03l6 -6M450.85 580.4l6 6M450.85 586.4l6 -6M454.18 602.85l6 6M454.18 608.85l6 -6M457.51 602.85l6 6M457.51 608.85l6 -6M460.84 602.85l6 6M460.84 608.85l6 -6M464.17 602.85l6 6M464.17 608.85l6 -6M467.5 602.85l6 6M467.5 608.85l6 -6M470.83 602.85l6 6M470.83 608.85l6 -6M474.16 602.85l6 6M474.16 608.85l6 -6M477.49 602.85l6 6M477.49 608.85l6 -6M480.82 602.85l6 6M480.82 608.85l6 -6M484.15 602.85l6 6M484.15 608.85l6 -6M487.48 602.85l6 6M487.48 608.85l6 -6M490.81 602.85l6 6M490.81 608.85l6 -6M494.14 602.85l6 6M494.14 608.85l6 -6M497.47 603.62l6 6M497.47 609.62l6 -6M500.8 603.62l6 6M500.8 609.62l6 -6M504.13 603.62l6 6M504.13 609.62l6 -6M507.46 603.62l6 6M507.46 609.62l6 -6M510.79 603.62l6 6M510.79 609.62l6 -6M514.12 603.62l6 6M514.12 609.62l6 -6M517.45 603.62l6 6M517.45 609.62l6 -6M520.78 603.62l6 6M520.78 609.62l6 -6M524.11 603.62l6 6M524.11 609.62l6 -6M527.44 603.62l6 6M527.44 609.62l6 -6M530.77 603.62l6 6M530.77 609.62l6 -6M534.1 603.62l6 6M534.1 609.62l6 -6M537.43 603.62l6 6M537.43 609.62l6 -6M540.76 603.62l6 6M540.76 609.62l6 -6M544.09 603.62l6 6M544.09 609.62l6 -6M547.42 603.62l6 6M547.42 609.62l6 -6M550.75 603.62l6 6M550.75 609.62l6 -6M554.08 603.62l6 6M554.08 609.62l6 -6M557.41 603.62l6 6M557.41 609.62l6 -6M560.74 603.62l6 6M560.74 609.62l6 -6M564.07 603.62l6 6M564.07 609.62l6 -6M567.4 603.62l6 6M567.4 609.62l6 -6M570.73 603.62l6 6M570.73 609.62l6 -6M574.06 603.62l6 6M574.06 609.62l6 -6M577.39 603.62l6 6M577.39 609.62l6 -6M580.72 603.62l6 6M580.72 609.62l6 -6M584.05 603.62l6 6M584.05 609.62l6 -6M587.38 603.62l6 6M587.38 609.62l6 -6M590.71 603.62l6 6M590.71 609.62l6 -6M594.04 603.62l6 6M594.04 609.62l6 -6M597.37 603.62l6 6M597.37 609.62l6 -6M600.7 603.62l6 6M600.7 609.62l6 -6M604.03 603.62l6 6M604.03 609.62l6 -6M607.36 603.62l6 6M607.36 609.62l6 -6M610.69 612.32l6 6M610.69 618.32l6 -6M614.02 612.32l6 6M614.02 618.32l6 -6M617.35 612.32l6 6M617.35 618.32l6 -6M620.68 621.79l6 6M620.68 627.79l6 -6M624.01 621.79l6 6M624.01 627.79l6 -6M627.34 621.79l6 6M627.34 627.79l6 -6M630.67 628.28l6 6M630.67 634.28l6 -6M634 628.28l6 6M634 634.28l6 -6M637.33 628.28l6 6M637.33 634.28l6 -6M640.66 628.28l6 6M640.66 634.28l6 -6M643.99 628.28l6 6M643.99 634.28l6 -6M647.32 628.28l6 6M647.32 634.28l6 -6M650.65 628.28l6 6M650.65 634.28l6 -6M653.98 628.28l6 6M653.98 634.28l6 -6M657.31 628.28l6 6M657.31 634.28l6 -6M660.64 628.28l6 6M660.64 634.28l6 -6M663.97 628.28l6 6M663.97 634.28l6 -6M667.3 628.28l6 6M667.3 634.28l6 -6M670.63 628.28l6 6M670.63 634.28l6 -6M673.96 628.28l6 6M673.96 634.28l6 -6M677.29 628.28l6 6M677.29 634.28l6 -6M680.62 628.28l6 6M680.62 634.28l6 -6M683.95 628.28l6 6M683.95 634.28l6 -6M687.28 628.28l6 6M687.28 634.28l6 -6M690.61 628.28l6 6M690.61 634.28l6 -6M693.94 628.28l6 6M693.94 634.28l6 -6M697.27 628.28l6 6M697.27 634.28l6 -6M700.6 628.28l6 6M700.6 634.28l6 -6M703.93 628.28l6 6M703.93 634.28l6 -6M707.26 628.28l6 6M707.26 634.28l6 -6M710.59 628.28l6 6M710.59 634.28l6 -6M713.92 628.28l6 6M713.92 634.28l6 -6M717.25 628.28l6 6M717.25 634.28l6 -6M720.58 628.28l6 6M720.58 634.28l6 -6M723.91 628.28l6 6M723.91 634.28l6 -6M727.24 628.28l6 6M727.24 634.28l6 -6M730.57 628.28l6 6M730.57 634.28l6 -6M733.9 628.28l6 6M733.9 634.28l6 -6M737.23 628.28l6 6M737.23 634.28l6 -6M740.56 628.28l6 6M740.56 634.28l6 -6M743.89 628.28l6 6M743.89 634.28l6 -6M747.22 628.28l6 6M747.22 634.28l6 -6M750.55 628.28l6 6M750.55 634.28l6 -6M753.88 628.28l6 6M753.88 634.28l6 -6M757.21 628.28l6 6M757.21 634.28l6 -6M760.54 628.28l6 6M760.54 634.28l6 -6M763.87 628.28l6 6M763.87 634.28l6 -6M767.2 628.28l6 6M767.2 634.28l6 -6"/>
<polyline class="lg" points="440.53,419.59 443.86,630.95 447.19,636.24 450.52,636.46 453.85,637.34 457.18,642.31 460.51,642.31 463.84,642.31 467.17,642.31 470.5,642.31 473.83,642.31 477.16,642.31 480.49,642.31 483.82,642.31 487.15,642.31 490.48,642.31 493.81,642.31 497.14,642.31 500.47,642.31 503.8,642.31 507.13,642.31 510.46,642.31 513.79,642.31 517.12,642.31 520.45,642.31 523.78,642.31 527.11,642.31 530.44,642.31 533.77,642.31 537.1,642.31 540.43,642.31 543.76,642.31 547.09,642.31 550.42,642.31 553.75,642.31 557.08,642.31 560.41,642.31 563.74,642.31 567.07,642.31 570.4,642.31 573.73,642.31 577.06,642.31 580.39,642.31 583.72,642.31 587.05,642.31 590.38,642.31 593.71,642.31 597.04,642.31 600.37,642.31 603.7,642.31 607.03,642.31 610.36,642.31 613.69,642.31 617.02,642.31 620.35,642.31 623.68,642.31 627.01,642.31 630.34,642.31 633.67,642.31 637,642.31 640.33,642.31 643.66,642.31 646.99,642.31 650.32,642.31 653.65,642.31 656.98,642.31 660.31,642.31 663.64,642.31 666.97,642.31 670.3,642.31 673.63,642.31 676.96,642.31 680.29,642.31 683.62,642.31 686.95,642.31 690.28,642.31 693.61,642.31 696.94,642.31 700.27,642.31 703.6,642.31 706.93,642.31 710.26,642.31 713.59,642.31 716.92,642.31 720.25,642.31 723.58,642.31 726.91,642.31 730.24,642.31 733.57,642.31 736.9,642.31 740.23,642.31 743.56,642.31 746.89,642.31 750.22,642.31 753.55,642.31 756.88,642.31 760.21,642.31 763.54,642.31 766.87,642.31 770.2,642.31"/>
<circle class="lg" cx="440.53" cy="419.59" r="3.0"/>
<circle class="lg" cx="443.86" cy="630.95" r="3.0"/>
<circle class="lg" cx="447.19" cy="636.24" r="3.0"/>
<circle class="lg" cx="450.52" cy="636.46" r="3.0"/>
<circle class="lg" cx="453.85" cy="637.34" r="3.0"/>
<circle class="lg" cx="457.18" cy="642.31" r="3.0"/>
<circle class="lg" cx="460.51" cy="642.31" r="3.0"/>
<circle class="lg" cx="463.84" cy="642.31" r="3.0"/>
<circle class="lg" cx="467.17" cy="642.31" r="3.0"/>
<circle class="lg" cx="470.5" cy="642.31" r="3.0"/>
<circle class="lg" cx="473.83" cy="642.31" r="3.0"/>
<circle class="lg" cx="477.16" cy="642.31" r="3.0"/>
<circle class="lg" cx="480.49" cy="642.31" r="3.0"/>
<circle class="lg" cx="483.82" cy="642.31" r="3.0"/>
<circle class="lg" cx="487.15" cy="642.31" r="3.0"/>
<circle class="lg" cx="490.48" cy="642.31" r="3.0"/>
<circle class="lg" cx="493.81" cy="642.31" r="3.0"/>
<circle class="lg" cx="497.14" cy="642.31" r="3.0"/>
<circle class="lg" cx="500.47" cy="642.31" r="3.0"/>
<circle class="lg" cx="503.8" cy="642.31" r="3.0"/>
<circle class="lg" cx="507.13" cy="642.31" r="3.0"/>
<circle class="lg" cx="510.46" cy="642.31" r="3.0"/>
<circle class="lg" cx="513.79" cy="642.31" r="3.0"/>
<circle class="lg" cx="517.12" cy="642.31" r="3.0"/>
<circle class="lg" cx="520.45" cy="642.31" r="3.0"/>
<circle class="lg" cx="523.78" cy="642.31" r="3.0"/>
<circle class="lg" cx="527.11" cy="642.31" r="3.0"/>
<circle class="lg" cx="530.44" cy="642.31" r="3.0"/>
<circle class="lg" cx="533.77" cy="642.31" r="3.0"/>
<circle class="lg" cx="537.1" cy="642.31" r="3.0"/>
<circle class="lg" cx="540.43" cy="642.31" r="3.0"/>
<circle class="lg" cx="543.76" cy="642.31" r="3.0"/>
<circle class="lg" cx="547.09" cy="642.31" r="3.0"/>
<circle class="lg" cx="550.42" cy="642.31" r="3.0"/>
<circle class="lg" cx="553.75" cy="642.31" r="3.0"/>
<circle class="lg" cx="557.08" cy="642.31" r="3.0"/>
<circle class="lg" cx="560.41" cy="642.31" r="3.0"/>
<circle class="lg" cx="563.74" cy="642.31" r="3.0"/>
<circle class="lg" cx="567.07" cy="642.31" r="3.0"/>
<circle class="lg" cx="570.4" cy="642.31" r="3.0"/>
<circle class="lg" cx="573.73" cy="642.31" r="3.0"/>
<circle class="lg" cx="577.06" cy="642.31" r="3.0"/>
<circle class="lg" cx="580.39" cy="642.31" r="3.0"/>
<circle class="lg" cx="583.72" cy="642.31" r="3.0"/>
<circle class="lg" cx="587.05" cy="642.31" r="3.0"/>
<circle class="lg" cx="590.38" cy="642.31" r="3.0"/>
<circle class="lg" cx="593.71" cy="642.31" r="3.0"/>
<circle class="lg" cx="597.04" cy="642.31" r="3.0"/>
<circle class="lg" cx="600.37" cy="642.31" r="3.0"/>
<circle class="lg" cx="603.7" cy="642.31" r="3.0"/>
<circle class="lg" cx="607.03" cy="642.31" r="3.0"/>
<circle class="lg" cx="610.36" cy="642.31" r="3.0"/>
<circle class="lg" cx="613.69" cy="642.31" r="3.0"/>
<circle class="lg" cx="617.02" cy="642.31" r="3.0"/>
<circle class="lg" cx="620.35" cy="642.31" r="3.0"/>
<circle class="lg" cx="623.68" cy="642.31" r="3.0"/>
<circle class="lg" cx="627.01" cy="642.31" r="3.0"/>
<circle class="lg" cx="630.34" cy="642.31" r="3.0"/>
<circle class="lg" cx="633.67" cy="642.31" r="3.0"/>
<circle class="lg" cx="637" cy="642.31" r="3.0"/>
<circle class="lg" cx="640.33" cy="642.31" r="3.0"/>
<circle class="lg" cx="643.66" cy="642.31" r="3.0"/>
<circle class="lg" cx="646.99" cy="642.31" r="3.0"/>
<circle class="lg" cx="650.32" cy="642.31" r="3.0"/>
<circle class="lg" cx="653.65" cy="642.31" r="3.0"/>
<circle class="lg" cx="656.98" cy="642.31" r="3.0"/>
<circle class="lg" cx="660.31" cy="642.31" r="3.0"/>
<circle class="lg" cx="663.64" cy="642.31" r="3.0"/>
<circle class="lg" cx="666.97" cy="642.31" r="3.0"/>
<circle class="lg" cx="670.3" cy="642.31" r="3.0"/>
<circle class="lg" cx="673.63" cy="642.31" r="3.0"/>
<circle class="lg" cx="676.96" cy="642.31" r="3.0"/>
<circle class="lg" cx="680.29" cy="642.31" r="3.0"/>
<circle class="lg" cx="683.62" cy="642.31" r="3.0"/>
<circle class="lg" cx="686.95" cy="642.31" r="3.0"/>
<circle class="lg" cx="690.28" cy="642.31" r="3.0"/>
<circle class="lg" cx="693.61" cy="642.31" r="3.0"/>
<circle class="lg" cx="696.94" cy="642.31" r="3.0"/>
<circle class="lg" cx="700.27" cy="642.31" r="3.0"/>
<circle class="lg" cx="703.6" cy="642.31" r="3.0"/>
<circle class="lg" cx="706.93" cy="642.31" r="3.0"/>
<circle class="lg" cx="710.26" cy="642.31" r="3.0"/>
<circle class="lg" cx="713.59" cy="642.31" r="3.0"/>
<circle class="lg" cx="716.92" cy="642.31" r="3.0"/>
<circle class="lg" cx="720.25" cy="642.31" r="3.0"/>
<circle class="lg" cx="723.58" cy="642.31" r="3.0"/>
<circle class="lg" cx="726.91" cy="642.31" r="3.0"/>
<circle class="lg" cx="730.24" cy="642.31" r="3.0"/>
<circle class="lg" cx="733.57" cy="642.31" r="3.0"/>
<circle class="lg" cx="736.9" cy="642.31" r="3.0"/>
<circle class="lg" cx="740.23" cy="642.31" r="3.0"/>
<circle class="lg" cx="743.56" cy="642.31" r="3.0"/>
<circle class="lg" cx="746.89" cy="642.31" r="3.0"/>
<circle class="lg" cx="750.22" cy="642.31" r="3.0"/>
<circle class="lg" cx="753.55" cy="642.31" r="3.0"/>
<circle class="lg" cx="756.88" cy="642.31" r="3.0"/>
<circle class="lg" cx="760.21" cy="642.31" r="3.0"/>
<circle class="lg" cx="763.54" cy="642.31" r="3.0"/>
<circle class="lg" cx="766.87" cy="642.31" r="3.0"/>
<circle class="lg" cx="770.2" cy="642.31" r="3.0"/>
<rect class="legbox" x="690.6" y="387.6" width="70.2" height="29.9"/>
<path class="lb" d="M696.8 396.15H728.2M710.1 393.15l6 6M710.1 399.15l6 -6"/>
<path class="lg" d="M696.8 409.45H728.2"/>
<circle class="lg" cx="713.1" cy="409.45" r="3.0"/>
<text class="lgt" font-size="9.5" x="731.2" y="399.8">BSA</text>
<text class="lgt" font-size="9.5" x="731.2" y="413.1">ABSA</text>
</g>
<g id="plot-e">
<text class="ttl" x="202.2" y="721.6" text-anchor="middle">Number of Bats= 700; Number of Function Evaluations (NFEs)= 17500</text>
<text class="lbl" transform="translate(219.3 995.1) scale(1 1.07)" text-anchor="middle">Number of Function Evaluations</text>
<text class="lbl" transform="translate(34.4 834.2) rotate(-90) scale(1 1.07)" text-anchor="middle">Global Fitness Function</text>
<text class="sub" transform="translate(212.5 1012.1) scale(1.05 1)" text-anchor="middle">(e)</text>
<text class="tk" font-size="8.75" x="60.5" y="977.1" text-anchor="middle">0</text>
<text class="tk" font-size="8.75" x="93.5" y="977.1" text-anchor="middle">2000</text>
<text class="tk" font-size="8.75" x="126.5" y="977.1" text-anchor="middle">4000</text>
<text class="tk" font-size="8.75" x="159.5" y="977.1" text-anchor="middle">6000</text>
<text class="tk" font-size="8.75" x="192.5" y="977.1" text-anchor="middle">8000</text>
<text class="tk" font-size="8.75" x="225.5" y="977.1" text-anchor="middle">10000</text>
<text class="tk" font-size="8.75" x="258.5" y="977.1" text-anchor="middle">12000</text>
<text class="tk" font-size="8.75" x="291.5" y="977.1" text-anchor="middle">14000</text>
<text class="tk" font-size="8.75" x="324.5" y="977.1" text-anchor="middle">16000</text>
<text class="tk" font-size="8.75" x="357.5" y="977.1" text-anchor="middle">18000</text>
<text class="tk" font-size="8.75" x="56.2" y="968.1" text-anchor="end">0</text>
<text class="tk" font-size="8.75" x="56.2" y="934.67" text-anchor="end">0.5</text>
<text class="tk" font-size="8.75" x="56.2" y="901.24" text-anchor="end">1</text>
<text class="tk" font-size="8.75" x="56.2" y="867.81" text-anchor="end">1.5</text>
<text class="tk" font-size="8.75" x="56.2" y="834.39" text-anchor="end">2</text>
<text class="tk" font-size="8.75" x="56.2" y="800.96" text-anchor="end">2.5</text>
<text class="tk" font-size="8.75" x="56.2" y="767.53" text-anchor="end">3</text>
<text class="tk" font-size="8.75" x="56.2" y="734.1" text-anchor="end">3.5</text>
<path class="ax" d="M93.5 964.3v-3.4M93.5 730.3v3.4M126.5 964.3v-3.4M126.5 730.3v3.4M159.5 964.3v-3.4M159.5 730.3v3.4M192.5 964.3v-3.4M192.5 730.3v3.4M225.5 964.3v-3.4M225.5 730.3v3.4M258.5 964.3v-3.4M258.5 730.3v3.4M291.5 964.3v-3.4M291.5 730.3v3.4M324.5 964.3v-3.4M324.5 730.3v3.4M60.5 930.87h3.4M357.5 930.87h-3.4M60.5 897.44h3.4M357.5 897.44h-3.4M60.5 864.01h3.4M357.5 864.01h-3.4M60.5 830.59h3.4M357.5 830.59h-3.4M60.5 797.16h3.4M357.5 797.16h-3.4M60.5 763.73h3.4M357.5 763.73h-3.4"/>
<rect class="ax" x="60.5" y="730.3" width="297" height="234"/>
<polyline class="lb" points="72.05,867.36 83.6,867.36 95.15,867.36 106.7,867.36 118.25,868.03 129.8,868.03 141.35,868.03 152.9,868.03 164.45,868.03 176,868.03 187.55,920.84 199.1,947.25 210.65,947.25 222.2,947.25 233.75,949.26 245.3,949.26 256.85,949.26 268.4,949.26 279.95,950.13 291.5,950.13 303.05,950.13 314.6,950.13 326.15,950.13 337.7,950.13 349.25,950.13"/>
<path class="lb" d="M69.35 864.66l5.4 5.4M69.35 870.06l5.4 -5.4M80.9 864.66l5.4 5.4M80.9 870.06l5.4 -5.4M92.45 864.66l5.4 5.4M92.45 870.06l5.4 -5.4M104 864.66l5.4 5.4M104 870.06l5.4 -5.4M115.55 865.33l5.4 5.4M115.55 870.73l5.4 -5.4M127.1 865.33l5.4 5.4M127.1 870.73l5.4 -5.4M138.65 865.33l5.4 5.4M138.65 870.73l5.4 -5.4M150.2 865.33l5.4 5.4M150.2 870.73l5.4 -5.4M161.75 865.33l5.4 5.4M161.75 870.73l5.4 -5.4M173.3 865.33l5.4 5.4M173.3 870.73l5.4 -5.4M184.85 918.14l5.4 5.4M184.85 923.54l5.4 -5.4M196.4 944.55l5.4 5.4M196.4 949.95l5.4 -5.4M207.95 944.55l5.4 5.4M207.95 949.95l5.4 -5.4M219.5 944.55l5.4 5.4M219.5 949.95l5.4 -5.4M231.05 946.56l5.4 5.4M231.05 951.96l5.4 -5.4M242.6 946.56l5.4 5.4M242.6 951.96l5.4 -5.4M254.15 946.56l5.4 5.4M254.15 951.96l5.4 -5.4M265.7 946.56l5.4 5.4M265.7 951.96l5.4 -5.4M277.25 947.43l5.4 5.4M277.25 952.83l5.4 -5.4M288.8 947.43l5.4 5.4M288.8 952.83l5.4 -5.4M300.35 947.43l5.4 5.4M300.35 952.83l5.4 -5.4M311.9 947.43l5.4 5.4M311.9 952.83l5.4 -5.4M323.45 947.43l5.4 5.4M323.45 952.83l5.4 -5.4M335 947.43l5.4 5.4M335 952.83l5.4 -5.4M346.55 947.43l5.4 5.4M346.55 952.83l5.4 -5.4"/>
<polyline class="lg" points="72.05,746.35 83.6,781.11 95.15,962.29 106.7,962.29 118.25,962.29 129.8,964.3 141.35,964.3 152.9,964.3 164.45,964.3 176,964.3 187.55,964.3 199.1,964.3 210.65,964.3 222.2,964.3 233.75,964.3 245.3,964.3 256.85,964.3 268.4,964.3 279.95,964.3 291.5,964.3 303.05,964.3 314.6,964.3 326.15,964.3 337.7,964.3 349.25,964.3"/>
<circle class="lg" cx="72.05" cy="746.35" r="2.55"/>
<circle class="lg" cx="83.6" cy="781.11" r="2.55"/>
<circle class="lg" cx="95.15" cy="962.29" r="2.55"/>
<circle class="lg" cx="106.7" cy="962.29" r="2.55"/>
<circle class="lg" cx="118.25" cy="962.29" r="2.55"/>
<circle class="lg" cx="129.8" cy="964.3" r="2.55"/>
<circle class="lg" cx="141.35" cy="964.3" r="2.55"/>
<circle class="lg" cx="152.9" cy="964.3" r="2.55"/>
<circle class="lg" cx="164.45" cy="964.3" r="2.55"/>
<circle class="lg" cx="176" cy="964.3" r="2.55"/>
<circle class="lg" cx="187.55" cy="964.3" r="2.55"/>
<circle class="lg" cx="199.1" cy="964.3" r="2.55"/>
<circle class="lg" cx="210.65" cy="964.3" r="2.55"/>
<circle class="lg" cx="222.2" cy="964.3" r="2.55"/>
<circle class="lg" cx="233.75" cy="964.3" r="2.55"/>
<circle class="lg" cx="245.3" cy="964.3" r="2.55"/>
<circle class="lg" cx="256.85" cy="964.3" r="2.55"/>
<circle class="lg" cx="268.4" cy="964.3" r="2.55"/>
<circle class="lg" cx="279.95" cy="964.3" r="2.55"/>
<circle class="lg" cx="291.5" cy="964.3" r="2.55"/>
<circle class="lg" cx="303.05" cy="964.3" r="2.55"/>
<circle class="lg" cx="314.6" cy="964.3" r="2.55"/>
<circle class="lg" cx="326.15" cy="964.3" r="2.55"/>
<circle class="lg" cx="337.7" cy="964.3" r="2.55"/>
<circle class="lg" cx="349.25" cy="964.3" r="2.55"/>
<rect class="legbox" x="285.6" y="738.9" width="62.2" height="26.8"/>
<path class="lb" d="M291 746.75H319.5M303 744.05l5.4 5.4M303 749.45l5.4 -5.4"/>
<path class="lg" d="M291 758.75H319.5"/>
<circle class="lg" cx="305.7" cy="758.75" r="2.55"/>
<text class="lgt" font-size="8.6" x="322" y="750.25">BSA</text>
<text class="lgt" font-size="8.6" x="322" y="762.25">ABSA</text>
</g>
<g id="plot-f">
<text class="ttl" x="597.3" y="721.6" text-anchor="middle">Number of Bats= 700; Number of Function Evaluations (NFEs)= 70000</text>
<text class="lbl" transform="translate(614.9 994.85) scale(1 1.07)" text-anchor="middle">Number of Function Evaluations</text>
<text class="lbl" transform="translate(429.4 834.2) rotate(-90) scale(1 1.07)" text-anchor="middle">Global Fitness Function</text>
<text class="sub" transform="translate(602 1012.2) scale(1.05 1)" text-anchor="middle">(f)</text>
<text class="tk" font-size="8.75" x="455" y="977.1" text-anchor="middle">0</text>
<text class="tk" font-size="8.75" x="497.41" y="977.1" text-anchor="middle">1</text>
<text class="tk" font-size="8.75" x="539.83" y="977.1" text-anchor="middle">2</text>
<text class="tk" font-size="8.75" x="582.24" y="977.1" text-anchor="middle">3</text>
<text class="tk" font-size="8.75" x="624.66" y="977.1" text-anchor="middle">4</text>
<text class="tk" font-size="8.75" x="667.07" y="977.1" text-anchor="middle">5</text>
<text class="tk" font-size="8.75" x="709.49" y="977.1" text-anchor="middle">6</text>
<text class="tk" font-size="8.75" x="751.9" y="977.1" text-anchor="middle">7</text>
<text class="tk" font-size="8.75" x="451" y="968.4" text-anchor="end">0</text>
<text class="tk" font-size="8.75" x="451" y="921.6" text-anchor="end">0.5</text>
<text class="tk" font-size="8.75" x="451" y="874.8" text-anchor="end">1</text>
<text class="tk" font-size="8.75" x="451" y="828" text-anchor="end">1.5</text>
<text class="tk" font-size="8.75" x="451" y="781.2" text-anchor="end">2</text>
<text class="tk" font-size="8.75" x="451" y="734.4" text-anchor="end">2.5</text>
<path class="ax" d="M497.41 964.3v-3.4M497.41 730.3v3.4M539.83 964.3v-3.4M539.83 730.3v3.4M582.24 964.3v-3.4M582.24 730.3v3.4M624.66 964.3v-3.4M624.66 730.3v3.4M667.07 964.3v-3.4M667.07 730.3v3.4M709.49 964.3v-3.4M709.49 730.3v3.4M455 917.5h3.4M751.9 917.5h-3.4M455 870.7h3.4M751.9 870.7h-3.4M455 823.9h3.4M751.9 823.9h-3.4M455 777.1h3.4M751.9 777.1h-3.4"/>
<rect class="ax" x="455" y="730.3" width="296.9" height="234"/>
<polyline class="lb" points="457.97,908.14 460.94,908.14 463.91,920.31 466.88,936.69 469.85,936.69 472.81,936.69 475.78,954.75 478.75,954.75 481.72,954.75 484.69,954.75 487.66,954.75 490.63,954.75 493.6,954.75 496.57,954.75 499.53,954.75 502.5,954.75 505.47,954.75 508.44,954.75 511.41,954.75 514.38,954.75 517.35,954.75 520.32,954.75 523.29,954.75 526.26,954.75 529.23,954.75 532.19,957.75 535.16,957.75 538.13,957.75 541.1,957.75 544.07,957.75 547.04,957.75 550.01,957.75 552.98,957.75 555.95,957.75 558.91,957.75 561.88,957.75 564.85,957.75 567.82,957.75 570.79,957.75 573.76,957.75 576.73,957.75 579.7,957.75 582.67,957.75 585.64,957.75 588.61,957.75 591.57,957.75 594.54,957.75 597.51,957.75 600.48,957.75 603.45,957.75 606.42,957.75 609.39,957.75 612.36,957.75 615.33,957.75 618.29,957.75 621.26,957.75 624.23,957.75 627.2,957.75 630.17,957.75 633.14,957.75 636.11,957.75 639.08,957.75 642.05,957.75 645.02,957.75 647.99,957.75 650.95,957.75 653.92,957.75 656.89,957.75 659.86,957.75 662.83,957.75 665.8,957.75 668.77,957.75 671.74,957.75 674.71,957.75 677.67,957.75 680.64,957.75 683.61,957.75 686.58,957.75 689.55,957.75 692.52,957.75 695.49,957.75 698.46,957.75 701.43,957.75 704.4,957.75 707.37,957.75 710.33,957.75 713.3,957.75 716.27,957.75 719.24,957.75 722.21,957.75 725.18,957.75 728.15,957.75 731.12,957.75 734.09,957.75 737.05,957.75 740.02,957.75 742.99,957.75 745.96,957.75 748.93,957.75 751.9,957.75"/>
<path class="lb" d="M455.27 905.44l5.4 5.4M455.27 910.84l5.4 -5.4M458.24 905.44l5.4 5.4M458.24 910.84l5.4 -5.4M461.21 917.61l5.4 5.4M461.21 923.01l5.4 -5.4M464.18 933.99l5.4 5.4M464.18 939.39l5.4 -5.4M467.15 933.99l5.4 5.4M467.15 939.39l5.4 -5.4M470.11 933.99l5.4 5.4M470.11 939.39l5.4 -5.4M473.08 952.05l5.4 5.4M473.08 957.45l5.4 -5.4M476.05 952.05l5.4 5.4M476.05 957.45l5.4 -5.4M479.02 952.05l5.4 5.4M479.02 957.45l5.4 -5.4M481.99 952.05l5.4 5.4M481.99 957.45l5.4 -5.4M484.96 952.05l5.4 5.4M484.96 957.45l5.4 -5.4M487.93 952.05l5.4 5.4M487.93 957.45l5.4 -5.4M490.9 952.05l5.4 5.4M490.9 957.45l5.4 -5.4M493.87 952.05l5.4 5.4M493.87 957.45l5.4 -5.4M496.83 952.05l5.4 5.4M496.83 957.45l5.4 -5.4M499.8 952.05l5.4 5.4M499.8 957.45l5.4 -5.4M502.77 952.05l5.4 5.4M502.77 957.45l5.4 -5.4M505.74 952.05l5.4 5.4M505.74 957.45l5.4 -5.4M508.71 952.05l5.4 5.4M508.71 957.45l5.4 -5.4M511.68 952.05l5.4 5.4M511.68 957.45l5.4 -5.4M514.65 952.05l5.4 5.4M514.65 957.45l5.4 -5.4M517.62 952.05l5.4 5.4M517.62 957.45l5.4 -5.4M520.59 952.05l5.4 5.4M520.59 957.45l5.4 -5.4M523.56 952.05l5.4 5.4M523.56 957.45l5.4 -5.4M526.52 952.05l5.4 5.4M526.52 957.45l5.4 -5.4M529.49 955.05l5.4 5.4M529.49 960.45l5.4 -5.4M532.46 955.05l5.4 5.4M532.46 960.45l5.4 -5.4M535.43 955.05l5.4 5.4M535.43 960.45l5.4 -5.4M538.4 955.05l5.4 5.4M538.4 960.45l5.4 -5.4M541.37 955.05l5.4 5.4M541.37 960.45l5.4 -5.4M544.34 955.05l5.4 5.4M544.34 960.45l5.4 -5.4M547.31 955.05l5.4 5.4M547.31 960.45l5.4 -5.4M550.28 955.05l5.4 5.4M550.28 960.45l5.4 -5.4M553.25 955.05l5.4 5.4M553.25 960.45l5.4 -5.4M556.21 955.05l5.4 5.4M556.21 960.45l5.4 -5.4M559.18 955.05l5.4 5.4M559.18 960.45l5.4 -5.4M562.15 955.05l5.4 5.4M562.15 960.45l5.4 -5.4M565.12 955.05l5.4 5.4M565.12 960.45l5.4 -5.4M568.09 955.05l5.4 5.4M568.09 960.45l5.4 -5.4M571.06 955.05l5.4 5.4M571.06 960.45l5.4 -5.4M574.03 955.05l5.4 5.4M574.03 960.45l5.4 -5.4M577 955.05l5.4 5.4M577 960.45l5.4 -5.4M579.97 955.05l5.4 5.4M579.97 960.45l5.4 -5.4M582.94 955.05l5.4 5.4M582.94 960.45l5.4 -5.4M585.9 955.05l5.4 5.4M585.9 960.45l5.4 -5.4M588.87 955.05l5.4 5.4M588.87 960.45l5.4 -5.4M591.84 955.05l5.4 5.4M591.84 960.45l5.4 -5.4M594.81 955.05l5.4 5.4M594.81 960.45l5.4 -5.4M597.78 955.05l5.4 5.4M597.78 960.45l5.4 -5.4M600.75 955.05l5.4 5.4M600.75 960.45l5.4 -5.4M603.72 955.05l5.4 5.4M603.72 960.45l5.4 -5.4M606.69 955.05l5.4 5.4M606.69 960.45l5.4 -5.4M609.66 955.05l5.4 5.4M609.66 960.45l5.4 -5.4M612.63 955.05l5.4 5.4M612.63 960.45l5.4 -5.4M615.59 955.05l5.4 5.4M615.59 960.45l5.4 -5.4M618.56 955.05l5.4 5.4M618.56 960.45l5.4 -5.4M621.53 955.05l5.4 5.4M621.53 960.45l5.4 -5.4M624.5 955.05l5.4 5.4M624.5 960.45l5.4 -5.4M627.47 955.05l5.4 5.4M627.47 960.45l5.4 -5.4M630.44 955.05l5.4 5.4M630.44 960.45l5.4 -5.4M633.41 955.05l5.4 5.4M633.41 960.45l5.4 -5.4M636.38 955.05l5.4 5.4M636.38 960.45l5.4 -5.4M639.35 955.05l5.4 5.4M639.35 960.45l5.4 -5.4M642.32 955.05l5.4 5.4M642.32 960.45l5.4 -5.4M645.28 955.05l5.4 5.4M645.28 960.45l5.4 -5.4M648.25 955.05l5.4 5.4M648.25 960.45l5.4 -5.4M651.22 955.05l5.4 5.4M651.22 960.45l5.4 -5.4M654.19 955.05l5.4 5.4M654.19 960.45l5.4 -5.4M657.16 955.05l5.4 5.4M657.16 960.45l5.4 -5.4M660.13 955.05l5.4 5.4M660.13 960.45l5.4 -5.4M663.1 955.05l5.4 5.4M663.1 960.45l5.4 -5.4M666.07 955.05l5.4 5.4M666.07 960.45l5.4 -5.4M669.04 955.05l5.4 5.4M669.04 960.45l5.4 -5.4M672.01 955.05l5.4 5.4M672.01 960.45l5.4 -5.4M674.97 955.05l5.4 5.4M674.97 960.45l5.4 -5.4M677.94 955.05l5.4 5.4M677.94 960.45l5.4 -5.4M680.91 955.05l5.4 5.4M680.91 960.45l5.4 -5.4M683.88 955.05l5.4 5.4M683.88 960.45l5.4 -5.4M686.85 955.05l5.4 5.4M686.85 960.45l5.4 -5.4M689.82 955.05l5.4 5.4M689.82 960.45l5.4 -5.4M692.79 955.05l5.4 5.4M692.79 960.45l5.4 -5.4M695.76 955.05l5.4 5.4M695.76 960.45l5.4 -5.4M698.73 955.05l5.4 5.4M698.73 960.45l5.4 -5.4M701.7 955.05l5.4 5.4M701.7 960.45l5.4 -5.4M704.66 955.05l5.4 5.4M704.66 960.45l5.4 -5.4M707.63 955.05l5.4 5.4M707.63 960.45l5.4 -5.4M710.6 955.05l5.4 5.4M710.6 960.45l5.4 -5.4M713.57 955.05l5.4 5.4M713.57 960.45l5.4 -5.4M716.54 955.05l5.4 5.4M716.54 960.45l5.4 -5.4M719.51 955.05l5.4 5.4M719.51 960.45l5.4 -5.4M722.48 955.05l5.4 5.4M722.48 960.45l5.4 -5.4M725.45 955.05l5.4 5.4M725.45 960.45l5.4 -5.4M728.42 955.05l5.4 5.4M728.42 960.45l5.4 -5.4M731.39 955.05l5.4 5.4M731.39 960.45l5.4 -5.4M734.35 955.05l5.4 5.4M734.35 960.45l5.4 -5.4M737.32 955.05l5.4 5.4M737.32 960.45l5.4 -5.4M740.29 955.05l5.4 5.4M740.29 960.45l5.4 -5.4M743.26 955.05l5.4 5.4M743.26 960.45l5.4 -5.4M746.23 955.05l5.4 5.4M746.23 960.45l5.4 -5.4M749.2 955.05l5.4 5.4M749.2 960.45l5.4 -5.4"/>
<polyline class="lg" points="457.97,738.54 460.94,851.98 463.91,863.21 466.88,953.07 469.85,953.07 472.81,962.62 475.78,962.62 478.75,964.3 481.72,964.3 484.69,964.3 487.66,964.3 490.63,964.3 493.6,964.3 496.57,964.3 499.53,964.3 502.5,964.3 505.47,964.3 508.44,964.3 511.41,964.3 514.38,964.3 517.35,964.3 520.32,964.3 523.29,964.3 526.26,964.3 529.23,964.3 532.19,964.3 535.16,964.3 538.13,964.3 541.1,964.3 544.07,964.3 547.04,964.3 550.01,964.3 552.98,964.3 555.95,964.3 558.91,964.3 561.88,964.3 564.85,964.3 567.82,964.3 570.79,964.3 573.76,964.3 576.73,964.3 579.7,964.3 582.67,964.3 585.64,964.3 588.61,964.3 591.57,964.3 594.54,964.3 597.51,964.3 600.48,964.3 603.45,964.3 606.42,964.3 609.39,964.3 612.36,964.3 615.33,964.3 618.29,964.3 621.26,964.3 624.23,964.3 627.2,964.3 630.17,964.3 633.14,964.3 636.11,964.3 639.08,964.3 642.05,964.3 645.02,964.3 647.99,964.3 650.95,964.3 653.92,964.3 656.89,964.3 659.86,964.3 662.83,964.3 665.8,964.3 668.77,964.3 671.74,964.3 674.71,964.3 677.67,964.3 680.64,964.3 683.61,964.3 686.58,964.3 689.55,964.3 692.52,964.3 695.49,964.3 698.46,964.3 701.43,964.3 704.4,964.3 707.37,964.3 710.33,964.3 713.3,964.3 716.27,964.3 719.24,964.3 722.21,964.3 725.18,964.3 728.15,964.3 731.12,964.3 734.09,964.3 737.05,964.3 740.02,964.3 742.99,964.3 745.96,964.3 748.93,964.3 751.9,964.3"/>
<circle class="lg" cx="457.97" cy="738.54" r="2.55"/>
<circle class="lg" cx="460.94" cy="851.98" r="2.55"/>
<circle class="lg" cx="463.91" cy="863.21" r="2.55"/>
<circle class="lg" cx="466.88" cy="953.07" r="2.55"/>
<circle class="lg" cx="469.85" cy="953.07" r="2.55"/>
<circle class="lg" cx="472.81" cy="962.62" r="2.55"/>
<circle class="lg" cx="475.78" cy="962.62" r="2.55"/>
<circle class="lg" cx="478.75" cy="964.3" r="2.55"/>
<circle class="lg" cx="481.72" cy="964.3" r="2.55"/>
<circle class="lg" cx="484.69" cy="964.3" r="2.55"/>
<circle class="lg" cx="487.66" cy="964.3" r="2.55"/>
<circle class="lg" cx="490.63" cy="964.3" r="2.55"/>
<circle class="lg" cx="493.6" cy="964.3" r="2.55"/>
<circle class="lg" cx="496.57" cy="964.3" r="2.55"/>
<circle class="lg" cx="499.53" cy="964.3" r="2.55"/>
<circle class="lg" cx="502.5" cy="964.3" r="2.55"/>
<circle class="lg" cx="505.47" cy="964.3" r="2.55"/>
<circle class="lg" cx="508.44" cy="964.3" r="2.55"/>
<circle class="lg" cx="511.41" cy="964.3" r="2.55"/>
<circle class="lg" cx="514.38" cy="964.3" r="2.55"/>
<circle class="lg" cx="517.35" cy="964.3" r="2.55"/>
<circle class="lg" cx="520.32" cy="964.3" r="2.55"/>
<circle class="lg" cx="523.29" cy="964.3" r="2.55"/>
<circle class="lg" cx="526.26" cy="964.3" r="2.55"/>
<circle class="lg" cx="529.23" cy="964.3" r="2.55"/>
<circle class="lg" cx="532.19" cy="964.3" r="2.55"/>
<circle class="lg" cx="535.16" cy="964.3" r="2.55"/>
<circle class="lg" cx="538.13" cy="964.3" r="2.55"/>
<circle class="lg" cx="541.1" cy="964.3" r="2.55"/>
<circle class="lg" cx="544.07" cy="964.3" r="2.55"/>
<circle class="lg" cx="547.04" cy="964.3" r="2.55"/>
<circle class="lg" cx="550.01" cy="964.3" r="2.55"/>
<circle class="lg" cx="552.98" cy="964.3" r="2.55"/>
<circle class="lg" cx="555.95" cy="964.3" r="2.55"/>
<circle class="lg" cx="558.91" cy="964.3" r="2.55"/>
<circle class="lg" cx="561.88" cy="964.3" r="2.55"/>
<circle class="lg" cx="564.85" cy="964.3" r="2.55"/>
<circle class="lg" cx="567.82" cy="964.3" r="2.55"/>
<circle class="lg" cx="570.79" cy="964.3" r="2.55"/>
<circle class="lg" cx="573.76" cy="964.3" r="2.55"/>
<circle class="lg" cx="576.73" cy="964.3" r="2.55"/>
<circle class="lg" cx="579.7" cy="964.3" r="2.55"/>
<circle class="lg" cx="582.67" cy="964.3" r="2.55"/>
<circle class="lg" cx="585.64" cy="964.3" r="2.55"/>
<circle class="lg" cx="588.61" cy="964.3" r="2.55"/>
<circle class="lg" cx="591.57" cy="964.3" r="2.55"/>
<circle class="lg" cx="594.54" cy="964.3" r="2.55"/>
<circle class="lg" cx="597.51" cy="964.3" r="2.55"/>
<circle class="lg" cx="600.48" cy="964.3" r="2.55"/>
<circle class="lg" cx="603.45" cy="964.3" r="2.55"/>
<circle class="lg" cx="606.42" cy="964.3" r="2.55"/>
<circle class="lg" cx="609.39" cy="964.3" r="2.55"/>
<circle class="lg" cx="612.36" cy="964.3" r="2.55"/>
<circle class="lg" cx="615.33" cy="964.3" r="2.55"/>
<circle class="lg" cx="618.29" cy="964.3" r="2.55"/>
<circle class="lg" cx="621.26" cy="964.3" r="2.55"/>
<circle class="lg" cx="624.23" cy="964.3" r="2.55"/>
<circle class="lg" cx="627.2" cy="964.3" r="2.55"/>
<circle class="lg" cx="630.17" cy="964.3" r="2.55"/>
<circle class="lg" cx="633.14" cy="964.3" r="2.55"/>
<circle class="lg" cx="636.11" cy="964.3" r="2.55"/>
<circle class="lg" cx="639.08" cy="964.3" r="2.55"/>
<circle class="lg" cx="642.05" cy="964.3" r="2.55"/>
<circle class="lg" cx="645.02" cy="964.3" r="2.55"/>
<circle class="lg" cx="647.99" cy="964.3" r="2.55"/>
<circle class="lg" cx="650.95" cy="964.3" r="2.55"/>
<circle class="lg" cx="653.92" cy="964.3" r="2.55"/>
<circle class="lg" cx="656.89" cy="964.3" r="2.55"/>
<circle class="lg" cx="659.86" cy="964.3" r="2.55"/>
<circle class="lg" cx="662.83" cy="964.3" r="2.55"/>
<circle class="lg" cx="665.8" cy="964.3" r="2.55"/>
<circle class="lg" cx="668.77" cy="964.3" r="2.55"/>
<circle class="lg" cx="671.74" cy="964.3" r="2.55"/>
<circle class="lg" cx="674.71" cy="964.3" r="2.55"/>
<circle class="lg" cx="677.67" cy="964.3" r="2.55"/>
<circle class="lg" cx="680.64" cy="964.3" r="2.55"/>
<circle class="lg" cx="683.61" cy="964.3" r="2.55"/>
<circle class="lg" cx="686.58" cy="964.3" r="2.55"/>
<circle class="lg" cx="689.55" cy="964.3" r="2.55"/>
<circle class="lg" cx="692.52" cy="964.3" r="2.55"/>
<circle class="lg" cx="695.49" cy="964.3" r="2.55"/>
<circle class="lg" cx="698.46" cy="964.3" r="2.55"/>
<circle class="lg" cx="701.43" cy="964.3" r="2.55"/>
<circle class="lg" cx="704.4" cy="964.3" r="2.55"/>
<circle class="lg" cx="707.37" cy="964.3" r="2.55"/>
<circle class="lg" cx="710.33" cy="964.3" r="2.55"/>
<circle class="lg" cx="713.3" cy="964.3" r="2.55"/>
<circle class="lg" cx="716.27" cy="964.3" r="2.55"/>
<circle class="lg" cx="719.24" cy="964.3" r="2.55"/>
<circle class="lg" cx="722.21" cy="964.3" r="2.55"/>
<circle class="lg" cx="725.18" cy="964.3" r="2.55"/>
<circle class="lg" cx="728.15" cy="964.3" r="2.55"/>
<circle class="lg" cx="731.12" cy="964.3" r="2.55"/>
<circle class="lg" cx="734.09" cy="964.3" r="2.55"/>
<circle class="lg" cx="737.05" cy="964.3" r="2.55"/>
<circle class="lg" cx="740.02" cy="964.3" r="2.55"/>
<circle class="lg" cx="742.99" cy="964.3" r="2.55"/>
<circle class="lg" cx="745.96" cy="964.3" r="2.55"/>
<circle class="lg" cx="748.93" cy="964.3" r="2.55"/>
<circle class="lg" cx="751.9" cy="964.3" r="2.55"/>
<rect class="legbox" x="680.8" y="739.2" width="61.9" height="26.5"/>
<path class="lb" d="M686.4 747H714.2M697.5 744.3l5.4 5.4M697.5 749.7l5.4 -5.4"/>
<path class="lg" d="M686.4 758.8H714.2"/>
<circle class="lg" cx="700.2" cy="758.8" r="2.55"/>
<text class="lgt" font-size="8.6" x="716.4" y="750.55">BSA</text>
<text class="lgt" font-size="8.6" x="716.4" y="762.35">ABSA</text>
<text class="tk" font-size="12" x="731.7" y="994.9" text-anchor="middle">×</text>
<text class="tk" font-size="8.75" x="736.2" y="993.6">10</text>
<text class="tk" font-size="7.4" x="746.1" y="989.3">4</text>
</g>
</g>
</svg>
</body>
</html>
